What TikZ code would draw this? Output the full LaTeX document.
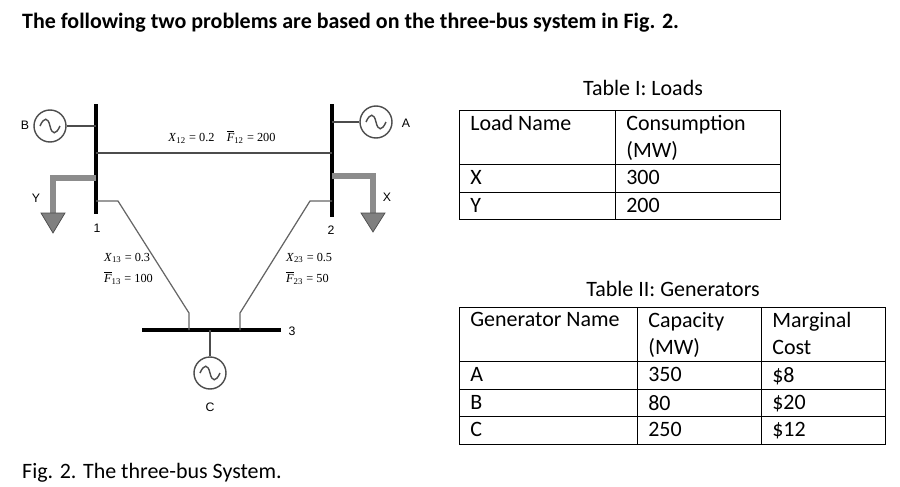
\documentclass[tikz,border=0pt]{standalone}
\usepackage{fontspec}
\setmainfont{Carlito}
\newfontfamily\diagfont{Liberation Sans}
\newfontfamily\parfont{Liberation Serif}
\usetikzlibrary{arrows}
\tikzset{
  bus/.style={line width=2pt},
  branch/.style={draw=black!60, line width=0.7pt},
  loadln/.style={draw=black!45, line width=3pt},
  gen/.style={circle, draw=black!70, thick, minimum size=32\px},
  lbl/.style={font=\diagfont\fontsize{7}{8}\selectfont},
  par/.style={font=\parfont\fontsize{7}{8}\selectfont, inner sep=1pt},
  cell/.style={anchor=north west, font=\fontsize{12.5}{15.5}\selectfont, align=left, inner sep=0pt}
}
\newlength{\px}\setlength{\px}{0.02cm}
\newcommand{\sine}[1]{\draw[black!70, thick] ([xshift=-10\px]#1.center) .. controls ([xshift=-6\px,yshift=9\px]#1.center) and ([xshift=-2\px,yshift=9\px]#1.center) .. (#1.center) .. controls ([xshift=2\px,yshift=-9\px]#1.center) and ([xshift=6\px,yshift=-9\px]#1.center) .. ([xshift=10\px]#1.center);}
\newcommand{\pX}[1]{\textit{X}\textsubscript{#1}}
\newcommand{\pF}[1]{$\overline{\mbox{\itshape F}}$\textsubscript{#1}}
\begin{document}
\begin{tikzpicture}[x=0.02cm, y=-0.02cm, >=latex]
  \useasboundingbox (0,0) rectangle (900,487);
  \node[anchor=west, font=\bfseries\fontsize{12.5}{14}\selectfont] (title) at (16,23) {The following two problems are based on the three-bus system in Fig. 2.};
  \node[anchor=west, font=\fontsize{12.5}{14}\selectfont] (caption) at (16,473) {Fig. 2. The three-bus System.};

  % buses
  \coordinate (b1t) at (96,104); \coordinate (b1b) at (96,214);
  \coordinate (b2t) at (332,104); \coordinate (b2b) at (332,217);
  \coordinate (b3l) at (142,330); \coordinate (b3r) at (281,330);
  \draw[bus] (b1t) -- (b1b);
  \draw[bus] (b2t) -- (b2b);
  \draw[bus] (b3l) -- (b3r);
  \node[lbl] (n1) at (97,228) {1};
  \node[lbl] (n2) at (331,230) {2};
  \node[lbl] (n3) at (292,331) {3};

  % generators
  \node[gen] (gB) at (50,126) {}; \sine{gB}
  \node[gen] (gA) at (376,122) {}; \sine{gA}
  \node[gen] (gC) at (210,373) {}; \sine{gC}
  \draw[black!70, thick] (gB) -- (96,126);
  \draw[black!70, thick] (gA) -- (332,122);
  \draw[black!70, thick] (gC) -- (210,330);
  \node[lbl] (lB) at (25,125) {B};
  \node[lbl] (lA) at (406,123) {A};
  \node[lbl] (lC) at (210,407) {C};

  % branches
  \draw[black!70, line width=1pt] (96,153) -- (332,153);
  \draw[branch] (96,201) -- (118,201) -- (189,313) -- (189,330);
  \draw[branch] (332,201) -- (310,201) -- (240,313) -- (240,330);
  \node[par] (x12) at (222,137) {\pX{12} = 0.2\quad \pF{12} = 200};
  \node[par, anchor=west] (x13) at (102,258) {\pX{13} = 0.3};
  \node[par, anchor=west] (f13) at (102,278) {\pF{13} = 100};
  \node[par, anchor=west] (x23) at (284,258) {\pX{23} = 0.5};
  \node[par, anchor=west] (f23) at (284,278) {\pF{23} = 50};

  % loads
  \draw[loadln] (96,178) -- (53,178) -- (53,213);
  \fill[black!50, draw=black!70] (41,213) -- (65,213) -- (53,233) -- cycle;
  \draw[loadln] (332,176) -- (373,176) -- (373,213);
  \fill[black!50, draw=black!70] (361,213) -- (385,213) -- (373,232) -- cycle;
  \node[lbl] (lY) at (36,198) {Y};
  \node[lbl] (lX) at (387,197) {X};

  % Table I
  \node[font=\fontsize{12.5}{14}\selectfont] (t1) at (643,88) {Table I: Loads};
  \draw (459,110) rectangle (780,219);
  \foreach \y in {164,192} \draw (459,\y) -- (780,\y);
  \draw (615,110) -- (615,219);
  \node[cell] (c11) at (470,115) {Load Name};
  \node[cell] (c12) at (626,115) {Consumption\\(MW)};
  \node[cell] (c21) at (470,170) {X};
  \node[cell] (c22) at (626,170) {300};
  \node[cell] (c31) at (470,198) {Y};
  \node[cell] (c32) at (626,198) {200};

  % Table II
  \node[font=\fontsize{12.5}{14}\selectfont] (t2) at (673,289) {Table II: Generators};
  \draw (459,307) rectangle (885,444);
  \foreach \y in {361,389,416} \draw (459,\y) -- (885,\y);
  \draw (637,307) -- (637,444);
  \draw (761,307) -- (761,444);
  \node[cell] (d11) at (470,312) {Generator Name};
  \node[cell] (d12) at (648,312) {Capacity\\(MW)};
  \node[cell] (d13) at (772,312) {Marginal\\Cost};
  \node[cell] (d21) at (470,367) {A};
  \node[cell] (d22) at (648,367) {350};
  \node[cell] (d23) at (772,367) {\$8};
  \node[cell] (d31) at (470,395) {B};
  \node[cell] (d32) at (648,395) {80};
  \node[cell] (d33) at (772,395) {\$20};
  \node[cell] (d41) at (470,422) {C};
  \node[cell] (d42) at (648,422) {250};
  \node[cell] (d43) at (772,422) {\$12};
\end{tikzpicture}
\end{document}
